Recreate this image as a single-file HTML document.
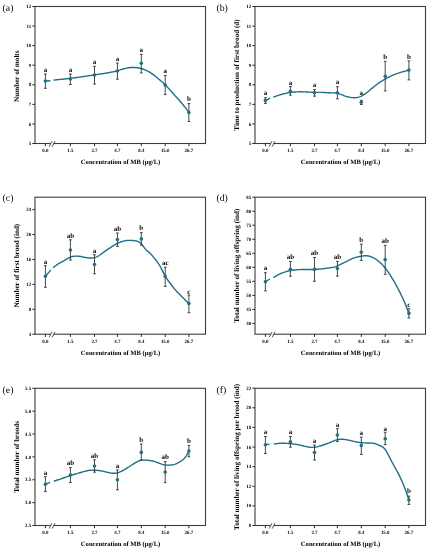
<!DOCTYPE html>
<html><head><meta charset="utf-8"><style>
html,body{margin:0;padding:0;background:#fff;}
svg{display:block;will-change:transform;text-rendering:geometricPrecision;}
</style></head><body>
<svg width="429" height="550" viewBox="0 0 429 550">
<rect width="429" height="550" fill="#fff"/>
<rect x="35.00" y="6.50" width="170.50" height="137.00" fill="none" stroke="#3c3c3c" stroke-width="1.1"/>
<rect x="50.50" y="142.00" width="3.0" height="3" fill="#fff"/>
<line x1="49.20" y1="146.60" x2="52.00" y2="141.20" stroke="#3c3c3c" stroke-width="0.90"/>
<line x1="52.20" y1="146.60" x2="55.00" y2="141.20" stroke="#3c3c3c" stroke-width="0.90"/>
<line x1="32.30" y1="143.50" x2="35.00" y2="143.50" stroke="#2a2a2a" stroke-width="1.00"/>
<text x="31.10" y="145.10" font-size="4.90" text-anchor="end" font-weight="bold" font-family="Liberation Serif">5</text>
<line x1="32.30" y1="123.93" x2="35.00" y2="123.93" stroke="#2a2a2a" stroke-width="1.00"/>
<text x="31.10" y="125.53" font-size="4.90" text-anchor="end" font-weight="bold" font-family="Liberation Serif">6</text>
<line x1="32.30" y1="104.36" x2="35.00" y2="104.36" stroke="#2a2a2a" stroke-width="1.00"/>
<text x="31.10" y="105.96" font-size="4.90" text-anchor="end" font-weight="bold" font-family="Liberation Serif">7</text>
<line x1="32.30" y1="84.79" x2="35.00" y2="84.79" stroke="#2a2a2a" stroke-width="1.00"/>
<text x="31.10" y="86.39" font-size="4.90" text-anchor="end" font-weight="bold" font-family="Liberation Serif">8</text>
<line x1="32.30" y1="65.21" x2="35.00" y2="65.21" stroke="#2a2a2a" stroke-width="1.00"/>
<text x="31.10" y="66.81" font-size="4.90" text-anchor="end" font-weight="bold" font-family="Liberation Serif">9</text>
<line x1="32.30" y1="45.64" x2="35.00" y2="45.64" stroke="#2a2a2a" stroke-width="1.00"/>
<text x="31.10" y="47.24" font-size="4.90" text-anchor="end" font-weight="bold" font-family="Liberation Serif">10</text>
<line x1="32.30" y1="26.07" x2="35.00" y2="26.07" stroke="#2a2a2a" stroke-width="1.00"/>
<text x="31.10" y="27.67" font-size="4.90" text-anchor="end" font-weight="bold" font-family="Liberation Serif">11</text>
<line x1="32.30" y1="6.50" x2="35.00" y2="6.50" stroke="#2a2a2a" stroke-width="1.00"/>
<text x="31.10" y="8.10" font-size="4.90" text-anchor="end" font-weight="bold" font-family="Liberation Serif">12</text>
<line x1="45.40" y1="143.50" x2="45.40" y2="146.20" stroke="#2a2a2a" stroke-width="1.00"/>
<text x="45.40" y="152.10" font-size="4.90" text-anchor="middle" font-weight="bold" font-family="Liberation Serif">0.0</text>
<line x1="70.40" y1="143.50" x2="70.40" y2="146.20" stroke="#2a2a2a" stroke-width="1.00"/>
<text x="70.40" y="152.10" font-size="4.90" text-anchor="middle" font-weight="bold" font-family="Liberation Serif">1.5</text>
<line x1="94.50" y1="143.50" x2="94.50" y2="146.20" stroke="#2a2a2a" stroke-width="1.00"/>
<text x="94.50" y="152.10" font-size="4.90" text-anchor="middle" font-weight="bold" font-family="Liberation Serif">2.7</text>
<line x1="117.40" y1="143.50" x2="117.40" y2="146.20" stroke="#2a2a2a" stroke-width="1.00"/>
<text x="117.40" y="152.10" font-size="4.90" text-anchor="middle" font-weight="bold" font-family="Liberation Serif">4.7</text>
<line x1="141.30" y1="143.50" x2="141.30" y2="146.20" stroke="#2a2a2a" stroke-width="1.00"/>
<text x="141.30" y="152.10" font-size="4.90" text-anchor="middle" font-weight="bold" font-family="Liberation Serif">8.4</text>
<line x1="165.20" y1="143.50" x2="165.20" y2="146.20" stroke="#2a2a2a" stroke-width="1.00"/>
<text x="165.20" y="152.10" font-size="4.90" text-anchor="middle" font-weight="bold" font-family="Liberation Serif">15.0</text>
<line x1="188.90" y1="143.50" x2="188.90" y2="146.20" stroke="#2a2a2a" stroke-width="1.00"/>
<text x="188.90" y="152.10" font-size="4.90" text-anchor="middle" font-weight="bold" font-family="Liberation Serif">26.7</text>
<text x="2.60" y="10.70" font-size="9.80" text-anchor="start" font-weight="normal" font-family="Liberation Serif">(a)</text>
<text x="18.60" y="76.20" font-size="7.15" text-anchor="middle" font-weight="bold" font-family="Liberation Serif" transform="rotate(-90 18.60 76.20)">Number of molts</text>
<text x="120.55" y="164.30" font-size="6.60" text-anchor="middle" font-weight="bold" font-family="Liberation Serif">Concentration of MB (μg/L)</text>
<path d="M45.40,81.00 L50.40,80.70" stroke="#1f7088" stroke-width="1.4" fill="none"/>
<path d="M53.50,80.10 L54.25,80.03 L55.00,79.95 L55.75,79.88 L56.50,79.80 L57.25,79.73 L58.00,79.65 L58.75,79.57 L59.50,79.50 L60.25,79.42 L61.00,79.34 L61.75,79.27 L62.50,79.19 L63.25,79.11 L64.00,79.03 L64.75,78.95 L65.50,78.86 L66.25,78.78 L67.00,78.70 L67.75,78.61 L68.50,78.52 L69.25,78.44 L70.00,78.35 L70.75,78.26 L71.50,78.17 L72.25,78.07 L73.00,77.98 L73.75,77.88 L74.50,77.79 L75.25,77.69 L76.00,77.59 L76.75,77.49 L77.50,77.39 L78.25,77.29 L79.00,77.18 L79.75,77.08 L80.50,76.97 L81.25,76.87 L82.00,76.76 L82.75,76.65 L83.50,76.54 L84.25,76.44 L85.00,76.33 L85.75,76.22 L86.50,76.11 L87.25,75.99 L88.00,75.88 L88.75,75.77 L89.50,75.66 L90.25,75.54 L91.00,75.43 L91.75,75.32 L92.50,75.20 L93.25,75.09 L94.00,74.98 L94.75,74.86 L95.50,74.75 L96.25,74.63 L97.00,74.52 L97.75,74.40 L98.50,74.29 L99.25,74.17 L100.00,74.05 L100.75,73.94 L101.50,73.82 L102.25,73.70 L103.00,73.58 L103.75,73.46 L104.50,73.34 L105.25,73.21 L106.00,73.09 L106.75,72.96 L107.50,72.84 L108.25,72.71 L109.00,72.58 L109.75,72.44 L110.50,72.31 L111.25,72.17 L112.00,72.03 L112.75,71.89 L113.50,71.74 L114.25,71.58 L115.00,71.41 L115.75,71.23 L116.50,71.04 L117.25,70.84 L118.00,70.63 L118.75,70.40 L119.50,70.17 L120.25,69.93 L121.00,69.69 L121.75,69.45 L122.50,69.21 L123.25,68.99 L124.00,68.77 L124.75,68.56 L125.50,68.38 L126.25,68.21 L127.00,68.06 L127.75,67.92 L128.50,67.81 L129.25,67.71 L130.00,67.63 L130.75,67.57 L131.50,67.52 L132.25,67.50 L133.00,67.49 L133.75,67.49 L134.50,67.52 L135.25,67.56 L136.00,67.62 L136.75,67.70 L137.50,67.80 L138.25,67.91 L139.00,68.05 L139.75,68.20 L140.50,68.37 L141.25,68.57 L142.00,68.78 L142.75,69.01 L143.50,69.27 L144.25,69.54 L145.00,69.84 L145.75,70.16 L146.50,70.50 L147.25,70.86 L148.00,71.25 L148.75,71.66 L149.50,72.10 L150.25,72.56 L151.00,73.04 L151.75,73.55 L152.50,74.07 L153.25,74.62 L154.00,75.18 L154.75,75.76 L155.50,76.35 L156.25,76.96 L157.00,77.57 L157.75,78.19 L158.50,78.82 L159.25,79.46 L160.00,80.10 L160.75,80.75 L161.50,81.42 L162.25,82.09 L163.00,82.78 L163.75,83.49 L164.50,84.21 L165.25,84.95 L166.00,85.71 L166.75,86.48 L167.50,87.27 L168.25,88.08 L169.00,88.89 L169.75,89.72 L170.50,90.55 L171.25,91.39 L172.00,92.23 L172.75,93.08 L173.50,93.92 L174.25,94.76 L175.00,95.60 L175.75,96.43 L176.50,97.26 L177.25,98.09 L178.00,98.91 L178.75,99.75 L179.50,100.59 L180.25,101.45 L181.00,102.31 L181.75,103.20 L182.50,104.11 L183.25,105.03 L184.00,105.97 L184.75,106.93 L185.50,107.90 L186.25,108.88 L187.00,109.87 L187.75,110.87 L188.50,111.87 L188.90,112.40" stroke="#1f7088" stroke-width="1.4" fill="none"/>
<line x1="45.40" y1="74.00" x2="45.40" y2="88.30" stroke="#333" stroke-width="0.90"/>
<line x1="44.00" y1="74.00" x2="46.80" y2="74.00" stroke="#333" stroke-width="0.90"/>
<line x1="44.00" y1="88.30" x2="46.80" y2="88.30" stroke="#333" stroke-width="0.90"/>
<circle cx="45.40" cy="81.00" r="1.8" fill="#1f7088"/>
<text x="45.40" y="71.80" font-size="7.00" text-anchor="middle" font-weight="bold" font-family="Liberation Serif">a</text>
<line x1="70.40" y1="74.00" x2="70.40" y2="84.50" stroke="#333" stroke-width="0.90"/>
<line x1="69.00" y1="74.00" x2="71.80" y2="74.00" stroke="#333" stroke-width="0.90"/>
<line x1="69.00" y1="84.50" x2="71.80" y2="84.50" stroke="#333" stroke-width="0.90"/>
<circle cx="70.40" cy="78.90" r="1.8" fill="#1f7088"/>
<text x="70.40" y="72.00" font-size="7.00" text-anchor="middle" font-weight="bold" font-family="Liberation Serif">a</text>
<line x1="94.50" y1="66.30" x2="94.50" y2="84.00" stroke="#333" stroke-width="0.90"/>
<line x1="93.10" y1="66.30" x2="95.90" y2="66.30" stroke="#333" stroke-width="0.90"/>
<line x1="93.10" y1="84.00" x2="95.90" y2="84.00" stroke="#333" stroke-width="0.90"/>
<circle cx="94.50" cy="75.00" r="1.8" fill="#1f7088"/>
<text x="94.50" y="64.00" font-size="7.00" text-anchor="middle" font-weight="bold" font-family="Liberation Serif">a</text>
<line x1="117.40" y1="63.10" x2="117.40" y2="79.20" stroke="#333" stroke-width="0.90"/>
<line x1="116.00" y1="63.10" x2="118.80" y2="63.10" stroke="#333" stroke-width="0.90"/>
<line x1="116.00" y1="79.20" x2="118.80" y2="79.20" stroke="#333" stroke-width="0.90"/>
<circle cx="117.40" cy="71.00" r="1.8" fill="#1f7088"/>
<text x="117.40" y="60.90" font-size="7.00" text-anchor="middle" font-weight="bold" font-family="Liberation Serif">a</text>
<line x1="141.30" y1="54.30" x2="141.30" y2="72.90" stroke="#333" stroke-width="0.90"/>
<line x1="139.90" y1="54.30" x2="142.70" y2="54.30" stroke="#333" stroke-width="0.90"/>
<line x1="139.90" y1="72.90" x2="142.70" y2="72.90" stroke="#333" stroke-width="0.90"/>
<circle cx="141.30" cy="63.30" r="1.8" fill="#1f7088"/>
<text x="141.30" y="52.20" font-size="7.00" text-anchor="middle" font-weight="bold" font-family="Liberation Serif">a</text>
<line x1="165.20" y1="75.40" x2="165.20" y2="94.60" stroke="#333" stroke-width="0.90"/>
<line x1="163.80" y1="75.40" x2="166.60" y2="75.40" stroke="#333" stroke-width="0.90"/>
<line x1="163.80" y1="94.60" x2="166.60" y2="94.60" stroke="#333" stroke-width="0.90"/>
<circle cx="165.20" cy="85.10" r="1.8" fill="#1f7088"/>
<text x="165.20" y="73.00" font-size="7.00" text-anchor="middle" font-weight="bold" font-family="Liberation Serif">a</text>
<line x1="188.90" y1="103.50" x2="188.90" y2="121.50" stroke="#333" stroke-width="0.90"/>
<line x1="187.50" y1="103.50" x2="190.30" y2="103.50" stroke="#333" stroke-width="0.90"/>
<line x1="187.50" y1="121.50" x2="190.30" y2="121.50" stroke="#333" stroke-width="0.90"/>
<circle cx="188.90" cy="112.50" r="1.8" fill="#1f7088"/>
<text x="188.90" y="100.70" font-size="7.00" text-anchor="middle" font-weight="bold" font-family="Liberation Serif">b</text>
<rect x="255.00" y="6.50" width="170.50" height="137.00" fill="none" stroke="#3c3c3c" stroke-width="1.1"/>
<rect x="270.50" y="142.00" width="3.0" height="3" fill="#fff"/>
<line x1="269.20" y1="146.60" x2="272.00" y2="141.20" stroke="#3c3c3c" stroke-width="0.90"/>
<line x1="272.20" y1="146.60" x2="275.00" y2="141.20" stroke="#3c3c3c" stroke-width="0.90"/>
<line x1="252.30" y1="143.50" x2="255.00" y2="143.50" stroke="#2a2a2a" stroke-width="1.00"/>
<text x="251.10" y="145.10" font-size="4.90" text-anchor="end" font-weight="bold" font-family="Liberation Serif">5</text>
<line x1="252.30" y1="123.93" x2="255.00" y2="123.93" stroke="#2a2a2a" stroke-width="1.00"/>
<text x="251.10" y="125.53" font-size="4.90" text-anchor="end" font-weight="bold" font-family="Liberation Serif">6</text>
<line x1="252.30" y1="104.36" x2="255.00" y2="104.36" stroke="#2a2a2a" stroke-width="1.00"/>
<text x="251.10" y="105.96" font-size="4.90" text-anchor="end" font-weight="bold" font-family="Liberation Serif">7</text>
<line x1="252.30" y1="84.79" x2="255.00" y2="84.79" stroke="#2a2a2a" stroke-width="1.00"/>
<text x="251.10" y="86.39" font-size="4.90" text-anchor="end" font-weight="bold" font-family="Liberation Serif">8</text>
<line x1="252.30" y1="65.21" x2="255.00" y2="65.21" stroke="#2a2a2a" stroke-width="1.00"/>
<text x="251.10" y="66.81" font-size="4.90" text-anchor="end" font-weight="bold" font-family="Liberation Serif">9</text>
<line x1="252.30" y1="45.64" x2="255.00" y2="45.64" stroke="#2a2a2a" stroke-width="1.00"/>
<text x="251.10" y="47.24" font-size="4.90" text-anchor="end" font-weight="bold" font-family="Liberation Serif">10</text>
<line x1="252.30" y1="26.07" x2="255.00" y2="26.07" stroke="#2a2a2a" stroke-width="1.00"/>
<text x="251.10" y="27.67" font-size="4.90" text-anchor="end" font-weight="bold" font-family="Liberation Serif">11</text>
<line x1="252.30" y1="6.50" x2="255.00" y2="6.50" stroke="#2a2a2a" stroke-width="1.00"/>
<text x="251.10" y="8.10" font-size="4.90" text-anchor="end" font-weight="bold" font-family="Liberation Serif">12</text>
<line x1="265.40" y1="143.50" x2="265.40" y2="146.20" stroke="#2a2a2a" stroke-width="1.00"/>
<text x="265.40" y="152.10" font-size="4.90" text-anchor="middle" font-weight="bold" font-family="Liberation Serif">0.0</text>
<line x1="290.40" y1="143.50" x2="290.40" y2="146.20" stroke="#2a2a2a" stroke-width="1.00"/>
<text x="290.40" y="152.10" font-size="4.90" text-anchor="middle" font-weight="bold" font-family="Liberation Serif">1.5</text>
<line x1="314.50" y1="143.50" x2="314.50" y2="146.20" stroke="#2a2a2a" stroke-width="1.00"/>
<text x="314.50" y="152.10" font-size="4.90" text-anchor="middle" font-weight="bold" font-family="Liberation Serif">2.7</text>
<line x1="337.40" y1="143.50" x2="337.40" y2="146.20" stroke="#2a2a2a" stroke-width="1.00"/>
<text x="337.40" y="152.10" font-size="4.90" text-anchor="middle" font-weight="bold" font-family="Liberation Serif">4.7</text>
<line x1="361.30" y1="143.50" x2="361.30" y2="146.20" stroke="#2a2a2a" stroke-width="1.00"/>
<text x="361.30" y="152.10" font-size="4.90" text-anchor="middle" font-weight="bold" font-family="Liberation Serif">8.4</text>
<line x1="385.20" y1="143.50" x2="385.20" y2="146.20" stroke="#2a2a2a" stroke-width="1.00"/>
<text x="385.20" y="152.10" font-size="4.90" text-anchor="middle" font-weight="bold" font-family="Liberation Serif">15.0</text>
<line x1="408.90" y1="143.50" x2="408.90" y2="146.20" stroke="#2a2a2a" stroke-width="1.00"/>
<text x="408.90" y="152.10" font-size="4.90" text-anchor="middle" font-weight="bold" font-family="Liberation Serif">26.7</text>
<text x="216.40" y="10.70" font-size="9.80" text-anchor="start" font-weight="normal" font-family="Liberation Serif">(b)</text>
<text x="238.60" y="75.00" font-size="7.15" text-anchor="middle" font-weight="bold" font-family="Liberation Serif" transform="rotate(-90 238.60 75.00)">Time to production of first brood (d)</text>
<text x="340.55" y="164.30" font-size="6.60" text-anchor="middle" font-weight="bold" font-family="Liberation Serif">Concentration of MB (μg/L)</text>
<path d="M265.40,100.60 L270.20,98.20" stroke="#1f7088" stroke-width="1.4" fill="none"/>
<path d="M273.20,97.20 L273.95,96.94 L274.70,96.67 L275.45,96.41 L276.20,96.15 L276.95,95.89 L277.70,95.64 L278.45,95.39 L279.20,95.15 L279.95,94.92 L280.70,94.69 L281.45,94.47 L282.20,94.26 L282.95,94.05 L283.70,93.86 L284.45,93.67 L285.20,93.49 L285.95,93.32 L286.70,93.16 L287.45,93.01 L288.20,92.86 L288.95,92.73 L289.70,92.61 L290.45,92.49 L291.20,92.39 L291.95,92.29 L292.70,92.21 L293.45,92.13 L294.20,92.06 L294.95,92.00 L295.70,91.95 L296.45,91.91 L297.20,91.87 L297.95,91.84 L298.70,91.82 L299.45,91.81 L300.20,91.80 L300.95,91.80 L301.70,91.81 L302.45,91.82 L303.20,91.84 L303.95,91.86 L304.70,91.88 L305.45,91.91 L306.20,91.95 L306.95,91.98 L307.70,92.02 L308.45,92.05 L309.20,92.09 L309.95,92.13 L310.70,92.16 L311.45,92.19 L312.20,92.23 L312.95,92.25 L313.70,92.28 L314.45,92.30 L315.20,92.31 L315.95,92.33 L316.70,92.34 L317.45,92.34 L318.20,92.35 L318.95,92.35 L319.70,92.36 L320.45,92.37 L321.20,92.38 L321.95,92.39 L322.70,92.41 L323.45,92.43 L324.20,92.46 L324.95,92.50 L325.70,92.54 L326.45,92.59 L327.20,92.64 L327.95,92.69 L328.70,92.74 L329.45,92.78 L330.20,92.81 L330.95,92.82 L331.70,92.84 L332.45,92.85 L333.20,92.86 L333.95,92.89 L334.70,92.93 L335.45,92.99 L336.20,93.09 L336.95,93.21 L337.70,93.37 L338.45,93.57 L339.20,93.80 L339.95,94.06 L340.70,94.33 L341.45,94.62 L342.20,94.92 L342.95,95.22 L343.70,95.52 L344.45,95.80 L345.20,96.07 L345.95,96.31 L346.70,96.54 L347.45,96.74 L348.20,96.93 L348.95,97.10 L349.70,97.25 L350.45,97.38 L351.20,97.49 L351.95,97.58 L352.70,97.65 L353.45,97.70 L354.20,97.72 L354.95,97.70 L355.70,97.66 L356.45,97.58 L357.20,97.46 L357.95,97.31 L358.70,97.12 L359.45,96.89 L360.20,96.63 L360.95,96.32 L361.70,95.98 L362.45,95.59 L363.20,95.17 L363.95,94.70 L364.70,94.21 L365.45,93.68 L366.20,93.12 L366.95,92.53 L367.70,91.93 L368.45,91.31 L369.20,90.68 L369.95,90.04 L370.70,89.41 L371.45,88.78 L372.20,88.15 L372.95,87.53 L373.70,86.91 L374.45,86.31 L375.20,85.71 L375.95,85.12 L376.70,84.55 L377.45,84.00 L378.20,83.46 L378.95,82.94 L379.70,82.43 L380.45,81.94 L381.20,81.46 L381.95,80.99 L382.70,80.54 L383.45,80.09 L384.20,79.66 L384.95,79.23 L385.70,78.81 L386.45,78.39 L387.20,77.98 L387.95,77.58 L388.70,77.19 L389.45,76.81 L390.20,76.43 L390.95,76.07 L391.70,75.72 L392.45,75.38 L393.20,75.04 L393.95,74.73 L394.70,74.42 L395.45,74.13 L396.20,73.84 L396.95,73.58 L397.70,73.32 L398.45,73.07 L399.20,72.83 L399.95,72.60 L400.70,72.37 L401.45,72.16 L402.20,71.94 L402.95,71.73 L403.70,71.53 L404.45,71.33 L405.20,71.13 L405.95,70.93 L406.70,70.74 L407.45,70.55 L408.20,70.35 L408.80,70.20" stroke="#1f7088" stroke-width="1.4" fill="none"/>
<line x1="265.40" y1="97.80" x2="265.40" y2="103.40" stroke="#333" stroke-width="0.90"/>
<line x1="264.00" y1="97.80" x2="266.80" y2="97.80" stroke="#333" stroke-width="0.90"/>
<line x1="264.00" y1="103.40" x2="266.80" y2="103.40" stroke="#333" stroke-width="0.90"/>
<circle cx="265.40" cy="100.60" r="1.8" fill="#1f7088"/>
<text x="265.40" y="95.00" font-size="7.00" text-anchor="middle" font-weight="bold" font-family="Liberation Serif">a</text>
<line x1="290.40" y1="86.60" x2="290.40" y2="95.20" stroke="#333" stroke-width="0.90"/>
<line x1="289.00" y1="86.60" x2="291.80" y2="86.60" stroke="#333" stroke-width="0.90"/>
<line x1="289.00" y1="95.20" x2="291.80" y2="95.20" stroke="#333" stroke-width="0.90"/>
<circle cx="290.40" cy="91.20" r="1.8" fill="#1f7088"/>
<text x="290.40" y="85.10" font-size="7.00" text-anchor="middle" font-weight="bold" font-family="Liberation Serif">a</text>
<line x1="314.50" y1="89.50" x2="314.50" y2="96.20" stroke="#333" stroke-width="0.90"/>
<line x1="313.10" y1="89.50" x2="315.90" y2="89.50" stroke="#333" stroke-width="0.90"/>
<line x1="313.10" y1="96.20" x2="315.90" y2="96.20" stroke="#333" stroke-width="0.90"/>
<circle cx="314.50" cy="92.70" r="1.8" fill="#1f7088"/>
<text x="314.50" y="87.00" font-size="7.00" text-anchor="middle" font-weight="bold" font-family="Liberation Serif">a</text>
<line x1="337.40" y1="86.70" x2="337.40" y2="98.80" stroke="#333" stroke-width="0.90"/>
<line x1="336.00" y1="86.70" x2="338.80" y2="86.70" stroke="#333" stroke-width="0.90"/>
<line x1="336.00" y1="98.80" x2="338.80" y2="98.80" stroke="#333" stroke-width="0.90"/>
<circle cx="337.40" cy="92.70" r="1.8" fill="#1f7088"/>
<text x="337.40" y="83.90" font-size="7.00" text-anchor="middle" font-weight="bold" font-family="Liberation Serif">a</text>
<line x1="361.30" y1="100.30" x2="361.30" y2="104.50" stroke="#333" stroke-width="0.90"/>
<line x1="359.90" y1="100.30" x2="362.70" y2="100.30" stroke="#333" stroke-width="0.90"/>
<line x1="359.90" y1="104.50" x2="362.70" y2="104.50" stroke="#333" stroke-width="0.90"/>
<circle cx="361.30" cy="102.20" r="1.8" fill="#1f7088"/>
<text x="361.30" y="94.90" font-size="7.00" text-anchor="middle" font-weight="bold" font-family="Liberation Serif">a</text>
<line x1="385.20" y1="61.40" x2="385.20" y2="90.90" stroke="#333" stroke-width="0.90"/>
<line x1="383.80" y1="61.40" x2="386.60" y2="61.40" stroke="#333" stroke-width="0.90"/>
<line x1="383.80" y1="90.90" x2="386.60" y2="90.90" stroke="#333" stroke-width="0.90"/>
<circle cx="385.20" cy="76.20" r="1.8" fill="#1f7088"/>
<text x="385.20" y="59.30" font-size="7.00" text-anchor="middle" font-weight="bold" font-family="Liberation Serif">b</text>
<line x1="408.90" y1="60.90" x2="408.90" y2="79.90" stroke="#333" stroke-width="0.90"/>
<line x1="407.50" y1="60.90" x2="410.30" y2="60.90" stroke="#333" stroke-width="0.90"/>
<line x1="407.50" y1="79.90" x2="410.30" y2="79.90" stroke="#333" stroke-width="0.90"/>
<circle cx="408.90" cy="70.10" r="1.8" fill="#1f7088"/>
<text x="408.90" y="59.00" font-size="7.00" text-anchor="middle" font-weight="bold" font-family="Liberation Serif">b</text>
<rect x="35.00" y="197.20" width="170.50" height="137.00" fill="none" stroke="#3c3c3c" stroke-width="1.1"/>
<rect x="50.50" y="332.70" width="3.0" height="3" fill="#fff"/>
<line x1="49.20" y1="337.30" x2="52.00" y2="331.90" stroke="#3c3c3c" stroke-width="0.90"/>
<line x1="52.20" y1="337.30" x2="55.00" y2="331.90" stroke="#3c3c3c" stroke-width="0.90"/>
<line x1="32.30" y1="334.20" x2="35.00" y2="334.20" stroke="#2a2a2a" stroke-width="1.00"/>
<text x="31.10" y="335.80" font-size="4.90" text-anchor="end" font-weight="bold" font-family="Liberation Serif">4</text>
<line x1="32.30" y1="309.28" x2="35.00" y2="309.28" stroke="#2a2a2a" stroke-width="1.00"/>
<text x="31.10" y="310.88" font-size="4.90" text-anchor="end" font-weight="bold" font-family="Liberation Serif">8</text>
<line x1="32.30" y1="284.36" x2="35.00" y2="284.36" stroke="#2a2a2a" stroke-width="1.00"/>
<text x="31.10" y="285.96" font-size="4.90" text-anchor="end" font-weight="bold" font-family="Liberation Serif">12</text>
<line x1="32.30" y1="259.44" x2="35.00" y2="259.44" stroke="#2a2a2a" stroke-width="1.00"/>
<text x="31.10" y="261.04" font-size="4.90" text-anchor="end" font-weight="bold" font-family="Liberation Serif">16</text>
<line x1="32.30" y1="234.52" x2="35.00" y2="234.52" stroke="#2a2a2a" stroke-width="1.00"/>
<text x="31.10" y="236.12" font-size="4.90" text-anchor="end" font-weight="bold" font-family="Liberation Serif">20</text>
<line x1="32.30" y1="209.60" x2="35.00" y2="209.60" stroke="#2a2a2a" stroke-width="1.00"/>
<text x="31.10" y="211.20" font-size="4.90" text-anchor="end" font-weight="bold" font-family="Liberation Serif">24</text>
<line x1="45.40" y1="334.20" x2="45.40" y2="336.90" stroke="#2a2a2a" stroke-width="1.00"/>
<text x="45.40" y="342.80" font-size="4.90" text-anchor="middle" font-weight="bold" font-family="Liberation Serif">0.0</text>
<line x1="70.40" y1="334.20" x2="70.40" y2="336.90" stroke="#2a2a2a" stroke-width="1.00"/>
<text x="70.40" y="342.80" font-size="4.90" text-anchor="middle" font-weight="bold" font-family="Liberation Serif">1.5</text>
<line x1="94.50" y1="334.20" x2="94.50" y2="336.90" stroke="#2a2a2a" stroke-width="1.00"/>
<text x="94.50" y="342.80" font-size="4.90" text-anchor="middle" font-weight="bold" font-family="Liberation Serif">2.7</text>
<line x1="117.40" y1="334.20" x2="117.40" y2="336.90" stroke="#2a2a2a" stroke-width="1.00"/>
<text x="117.40" y="342.80" font-size="4.90" text-anchor="middle" font-weight="bold" font-family="Liberation Serif">4.7</text>
<line x1="141.30" y1="334.20" x2="141.30" y2="336.90" stroke="#2a2a2a" stroke-width="1.00"/>
<text x="141.30" y="342.80" font-size="4.90" text-anchor="middle" font-weight="bold" font-family="Liberation Serif">8.4</text>
<line x1="165.20" y1="334.20" x2="165.20" y2="336.90" stroke="#2a2a2a" stroke-width="1.00"/>
<text x="165.20" y="342.80" font-size="4.90" text-anchor="middle" font-weight="bold" font-family="Liberation Serif">15.0</text>
<line x1="188.90" y1="334.20" x2="188.90" y2="336.90" stroke="#2a2a2a" stroke-width="1.00"/>
<text x="188.90" y="342.80" font-size="4.90" text-anchor="middle" font-weight="bold" font-family="Liberation Serif">26.7</text>
<text x="2.60" y="201.40" font-size="9.80" text-anchor="start" font-weight="normal" font-family="Liberation Serif">(c)</text>
<text x="18.60" y="265.70" font-size="7.15" text-anchor="middle" font-weight="bold" font-family="Liberation Serif" transform="rotate(-90 18.60 265.70)">Number of first brood (ind)</text>
<text x="120.55" y="355.00" font-size="6.60" text-anchor="middle" font-weight="bold" font-family="Liberation Serif">Concentration of MB (μg/L)</text>
<path d="M45.40,276.20 L51.00,269.90" stroke="#1f7088" stroke-width="1.4" fill="none"/>
<path d="M53.00,267.80 L53.75,267.19 L54.50,266.59 L55.25,266.01 L56.00,265.46 L56.75,264.93 L57.50,264.43 L58.25,263.95 L59.00,263.49 L59.75,263.04 L60.50,262.62 L61.25,262.20 L62.00,261.78 L62.75,261.37 L63.50,260.96 L64.25,260.54 L65.00,260.10 L65.75,259.65 L66.50,259.19 L67.25,258.74 L68.00,258.30 L68.75,257.89 L69.50,257.52 L70.25,257.20 L71.00,256.93 L71.75,256.71 L72.50,256.53 L73.25,256.39 L74.00,256.29 L74.75,256.22 L75.50,256.17 L76.25,256.15 L77.00,256.15 L77.75,256.18 L78.50,256.23 L79.25,256.30 L80.00,256.40 L80.75,256.52 L81.50,256.67 L82.25,256.82 L83.00,256.98 L83.75,257.15 L84.50,257.30 L85.25,257.45 L86.00,257.57 L86.75,257.69 L87.50,257.78 L88.25,257.86 L89.00,257.93 L89.75,257.99 L90.50,258.02 L91.25,258.04 L92.00,258.04 L92.75,257.99 L93.50,257.90 L94.25,257.76 L95.00,257.56 L95.75,257.29 L96.50,256.97 L97.25,256.60 L98.00,256.19 L98.75,255.73 L99.50,255.24 L100.25,254.72 L101.00,254.18 L101.75,253.63 L102.50,253.06 L103.25,252.49 L104.00,251.93 L104.75,251.38 L105.50,250.85 L106.25,250.34 L107.00,249.84 L107.75,249.35 L108.50,248.87 L109.25,248.38 L110.00,247.90 L110.75,247.41 L111.50,246.92 L112.25,246.42 L113.00,245.94 L113.75,245.46 L114.50,245.00 L115.25,244.55 L116.00,244.13 L116.75,243.73 L117.50,243.35 L118.25,242.99 L119.00,242.66 L119.75,242.34 L120.50,242.05 L121.25,241.78 L122.00,241.53 L122.75,241.31 L123.50,241.11 L124.25,240.93 L125.00,240.78 L125.75,240.65 L126.50,240.54 L127.25,240.46 L128.00,240.40 L128.75,240.36 L129.50,240.35 L130.25,240.36 L131.00,240.39 L131.75,240.43 L132.50,240.50 L133.25,240.57 L134.00,240.66 L134.75,240.76 L135.50,240.88 L136.25,241.01 L137.00,241.18 L137.75,241.41 L138.50,241.71 L139.25,242.11 L140.00,242.61 L140.75,243.25 L141.50,244.02 L142.25,244.94 L143.00,245.94 L143.75,246.97 L144.50,247.97 L145.25,248.89 L146.00,249.71 L146.75,250.44 L147.50,251.11 L148.25,251.76 L149.00,252.40 L149.75,253.07 L150.50,253.79 L151.25,254.56 L152.00,255.39 L152.75,256.25 L153.50,257.15 L154.25,258.07 L155.00,259.00 L155.75,259.94 L156.50,260.90 L157.25,261.90 L158.00,262.95 L158.75,264.06 L159.50,265.25 L160.25,266.54 L161.00,267.92 L161.75,269.37 L162.50,270.86 L163.25,272.35 L164.00,273.81 L164.75,275.22 L165.50,276.54 L166.25,277.76 L167.00,278.90 L167.75,279.98 L168.50,281.00 L169.25,282.01 L170.00,283.00 L170.75,284.00 L171.50,285.01 L172.25,286.01 L173.00,286.99 L173.75,287.96 L174.50,288.90 L175.25,289.79 L176.00,290.65 L176.75,291.48 L177.50,292.27 L178.25,293.04 L179.00,293.80 L179.75,294.55 L180.50,295.30 L181.25,296.05 L182.00,296.80 L182.75,297.55 L183.50,298.29 L184.25,299.04 L185.00,299.80 L185.75,300.55 L186.50,301.30 L187.25,302.05 L188.00,302.80 L188.75,303.55 L188.90,303.70" stroke="#1f7088" stroke-width="1.4" fill="none"/>
<line x1="45.40" y1="265.70" x2="45.40" y2="287.30" stroke="#333" stroke-width="0.90"/>
<line x1="44.00" y1="265.70" x2="46.80" y2="265.70" stroke="#333" stroke-width="0.90"/>
<line x1="44.00" y1="287.30" x2="46.80" y2="287.30" stroke="#333" stroke-width="0.90"/>
<circle cx="45.40" cy="276.20" r="1.8" fill="#1f7088"/>
<text x="45.40" y="263.50" font-size="7.00" text-anchor="middle" font-weight="bold" font-family="Liberation Serif">a</text>
<line x1="70.40" y1="239.80" x2="70.40" y2="260.10" stroke="#333" stroke-width="0.90"/>
<line x1="69.00" y1="239.80" x2="71.80" y2="239.80" stroke="#333" stroke-width="0.90"/>
<line x1="69.00" y1="260.10" x2="71.80" y2="260.10" stroke="#333" stroke-width="0.90"/>
<circle cx="70.40" cy="250.00" r="1.8" fill="#1f7088"/>
<text x="70.40" y="237.60" font-size="7.00" text-anchor="middle" font-weight="bold" font-family="Liberation Serif">ab</text>
<line x1="94.50" y1="254.70" x2="94.50" y2="273.80" stroke="#333" stroke-width="0.90"/>
<line x1="93.10" y1="254.70" x2="95.90" y2="254.70" stroke="#333" stroke-width="0.90"/>
<line x1="93.10" y1="273.80" x2="95.90" y2="273.80" stroke="#333" stroke-width="0.90"/>
<circle cx="94.50" cy="264.50" r="1.8" fill="#1f7088"/>
<text x="94.50" y="252.50" font-size="7.00" text-anchor="middle" font-weight="bold" font-family="Liberation Serif">a</text>
<line x1="117.40" y1="233.00" x2="117.40" y2="246.30" stroke="#333" stroke-width="0.90"/>
<line x1="116.00" y1="233.00" x2="118.80" y2="233.00" stroke="#333" stroke-width="0.90"/>
<line x1="116.00" y1="246.30" x2="118.80" y2="246.30" stroke="#333" stroke-width="0.90"/>
<circle cx="117.40" cy="239.60" r="1.8" fill="#1f7088"/>
<text x="117.40" y="231.10" font-size="7.00" text-anchor="middle" font-weight="bold" font-family="Liberation Serif">ab</text>
<line x1="141.30" y1="232.60" x2="141.30" y2="245.20" stroke="#333" stroke-width="0.90"/>
<line x1="139.90" y1="232.60" x2="142.70" y2="232.60" stroke="#333" stroke-width="0.90"/>
<line x1="139.90" y1="245.20" x2="142.70" y2="245.20" stroke="#333" stroke-width="0.90"/>
<circle cx="141.30" cy="238.90" r="1.8" fill="#1f7088"/>
<text x="141.30" y="230.40" font-size="7.00" text-anchor="middle" font-weight="bold" font-family="Liberation Serif">b</text>
<line x1="165.20" y1="267.20" x2="165.20" y2="286.40" stroke="#333" stroke-width="0.90"/>
<line x1="163.80" y1="267.20" x2="166.60" y2="267.20" stroke="#333" stroke-width="0.90"/>
<line x1="163.80" y1="286.40" x2="166.60" y2="286.40" stroke="#333" stroke-width="0.90"/>
<circle cx="165.20" cy="276.40" r="1.8" fill="#1f7088"/>
<text x="165.20" y="265.20" font-size="7.00" text-anchor="middle" font-weight="bold" font-family="Liberation Serif">ac</text>
<line x1="188.90" y1="295.10" x2="188.90" y2="312.70" stroke="#333" stroke-width="0.90"/>
<line x1="187.50" y1="295.10" x2="190.30" y2="295.10" stroke="#333" stroke-width="0.90"/>
<line x1="187.50" y1="312.70" x2="190.30" y2="312.70" stroke="#333" stroke-width="0.90"/>
<circle cx="188.90" cy="303.60" r="1.8" fill="#1f7088"/>
<text x="188.90" y="293.70" font-size="7.00" text-anchor="middle" font-weight="bold" font-family="Liberation Serif">c</text>
<rect x="255.00" y="197.20" width="170.50" height="137.00" fill="none" stroke="#3c3c3c" stroke-width="1.1"/>
<rect x="270.50" y="332.70" width="3.0" height="3" fill="#fff"/>
<line x1="269.20" y1="337.30" x2="272.00" y2="331.90" stroke="#3c3c3c" stroke-width="0.90"/>
<line x1="272.20" y1="337.30" x2="275.00" y2="331.90" stroke="#3c3c3c" stroke-width="0.90"/>
<line x1="252.30" y1="323.40" x2="255.00" y2="323.40" stroke="#2a2a2a" stroke-width="1.00"/>
<text x="251.10" y="325.00" font-size="4.90" text-anchor="end" font-weight="bold" font-family="Liberation Serif">40</text>
<line x1="252.30" y1="309.38" x2="255.00" y2="309.38" stroke="#2a2a2a" stroke-width="1.00"/>
<text x="251.10" y="310.98" font-size="4.90" text-anchor="end" font-weight="bold" font-family="Liberation Serif">45</text>
<line x1="252.30" y1="295.36" x2="255.00" y2="295.36" stroke="#2a2a2a" stroke-width="1.00"/>
<text x="251.10" y="296.96" font-size="4.90" text-anchor="end" font-weight="bold" font-family="Liberation Serif">50</text>
<line x1="252.30" y1="281.33" x2="255.00" y2="281.33" stroke="#2a2a2a" stroke-width="1.00"/>
<text x="251.10" y="282.93" font-size="4.90" text-anchor="end" font-weight="bold" font-family="Liberation Serif">55</text>
<line x1="252.30" y1="267.31" x2="255.00" y2="267.31" stroke="#2a2a2a" stroke-width="1.00"/>
<text x="251.10" y="268.91" font-size="4.90" text-anchor="end" font-weight="bold" font-family="Liberation Serif">60</text>
<line x1="252.30" y1="253.29" x2="255.00" y2="253.29" stroke="#2a2a2a" stroke-width="1.00"/>
<text x="251.10" y="254.89" font-size="4.90" text-anchor="end" font-weight="bold" font-family="Liberation Serif">65</text>
<line x1="252.30" y1="239.27" x2="255.00" y2="239.27" stroke="#2a2a2a" stroke-width="1.00"/>
<text x="251.10" y="240.87" font-size="4.90" text-anchor="end" font-weight="bold" font-family="Liberation Serif">70</text>
<line x1="252.30" y1="225.24" x2="255.00" y2="225.24" stroke="#2a2a2a" stroke-width="1.00"/>
<text x="251.10" y="226.84" font-size="4.90" text-anchor="end" font-weight="bold" font-family="Liberation Serif">75</text>
<line x1="252.30" y1="211.22" x2="255.00" y2="211.22" stroke="#2a2a2a" stroke-width="1.00"/>
<text x="251.10" y="212.82" font-size="4.90" text-anchor="end" font-weight="bold" font-family="Liberation Serif">80</text>
<line x1="252.30" y1="197.20" x2="255.00" y2="197.20" stroke="#2a2a2a" stroke-width="1.00"/>
<text x="251.10" y="198.80" font-size="4.90" text-anchor="end" font-weight="bold" font-family="Liberation Serif">85</text>
<line x1="265.40" y1="334.20" x2="265.40" y2="336.90" stroke="#2a2a2a" stroke-width="1.00"/>
<text x="265.40" y="342.80" font-size="4.90" text-anchor="middle" font-weight="bold" font-family="Liberation Serif">0.0</text>
<line x1="290.40" y1="334.20" x2="290.40" y2="336.90" stroke="#2a2a2a" stroke-width="1.00"/>
<text x="290.40" y="342.80" font-size="4.90" text-anchor="middle" font-weight="bold" font-family="Liberation Serif">1.5</text>
<line x1="314.50" y1="334.20" x2="314.50" y2="336.90" stroke="#2a2a2a" stroke-width="1.00"/>
<text x="314.50" y="342.80" font-size="4.90" text-anchor="middle" font-weight="bold" font-family="Liberation Serif">2.7</text>
<line x1="337.40" y1="334.20" x2="337.40" y2="336.90" stroke="#2a2a2a" stroke-width="1.00"/>
<text x="337.40" y="342.80" font-size="4.90" text-anchor="middle" font-weight="bold" font-family="Liberation Serif">4.7</text>
<line x1="361.30" y1="334.20" x2="361.30" y2="336.90" stroke="#2a2a2a" stroke-width="1.00"/>
<text x="361.30" y="342.80" font-size="4.90" text-anchor="middle" font-weight="bold" font-family="Liberation Serif">8.4</text>
<line x1="385.20" y1="334.20" x2="385.20" y2="336.90" stroke="#2a2a2a" stroke-width="1.00"/>
<text x="385.20" y="342.80" font-size="4.90" text-anchor="middle" font-weight="bold" font-family="Liberation Serif">15.0</text>
<line x1="408.90" y1="334.20" x2="408.90" y2="336.90" stroke="#2a2a2a" stroke-width="1.00"/>
<text x="408.90" y="342.80" font-size="4.90" text-anchor="middle" font-weight="bold" font-family="Liberation Serif">26.7</text>
<text x="216.40" y="201.40" font-size="9.80" text-anchor="start" font-weight="normal" font-family="Liberation Serif">(d)</text>
<text x="238.60" y="265.70" font-size="7.15" text-anchor="middle" font-weight="bold" font-family="Liberation Serif" transform="rotate(-90 238.60 265.70)">Total number of living offspring (ind)</text>
<text x="340.55" y="355.00" font-size="6.60" text-anchor="middle" font-weight="bold" font-family="Liberation Serif">Concentration of MB (μg/L)</text>
<path d="M265.40,281.70 L270.00,279.00" stroke="#1f7088" stroke-width="1.4" fill="none"/>
<path d="M273.40,277.60 L274.15,277.14 L274.90,276.69 L275.65,276.25 L276.40,275.81 L277.15,275.38 L277.90,274.96 L278.65,274.57 L279.40,274.19 L280.15,273.83 L280.90,273.50 L281.65,273.18 L282.40,272.89 L283.15,272.62 L283.90,272.36 L284.65,272.11 L285.40,271.88 L286.15,271.65 L286.90,271.44 L287.65,271.24 L288.40,271.05 L289.15,270.87 L289.90,270.70 L290.65,270.55 L291.40,270.41 L292.15,270.28 L292.90,270.16 L293.65,270.06 L294.40,269.97 L295.15,269.88 L295.90,269.82 L296.65,269.76 L297.40,269.71 L298.15,269.67 L298.90,269.64 L299.65,269.61 L300.40,269.59 L301.15,269.57 L301.90,269.56 L302.65,269.55 L303.40,269.54 L304.15,269.53 L304.90,269.53 L305.65,269.52 L306.40,269.52 L307.15,269.52 L307.90,269.52 L308.65,269.51 L309.40,269.51 L310.15,269.50 L310.90,269.49 L311.65,269.48 L312.40,269.46 L313.15,269.45 L313.90,269.42 L314.65,269.39 L315.40,269.36 L316.15,269.32 L316.90,269.28 L317.65,269.23 L318.40,269.18 L319.15,269.12 L319.90,269.06 L320.65,268.99 L321.40,268.92 L322.15,268.84 L322.90,268.76 L323.65,268.67 L324.40,268.58 L325.15,268.48 L325.90,268.38 L326.65,268.27 L327.40,268.17 L328.15,268.06 L328.90,267.95 L329.65,267.85 L330.40,267.75 L331.15,267.64 L331.90,267.53 L332.65,267.41 L333.40,267.27 L334.15,267.11 L334.90,266.92 L335.65,266.70 L336.40,266.43 L337.15,266.12 L337.90,265.75 L338.65,265.35 L339.40,264.93 L340.15,264.52 L340.90,264.13 L341.65,263.76 L342.40,263.41 L343.15,263.06 L343.90,262.72 L344.65,262.37 L345.40,262.01 L346.15,261.64 L346.90,261.26 L347.65,260.88 L348.40,260.50 L349.15,260.12 L349.90,259.75 L350.65,259.39 L351.40,259.03 L352.15,258.70 L352.90,258.38 L353.65,258.08 L354.40,257.80 L355.15,257.55 L355.90,257.33 L356.65,257.13 L357.40,256.95 L358.15,256.79 L358.90,256.64 L359.65,256.50 L360.40,256.36 L361.15,256.23 L361.90,256.09 L362.65,255.96 L363.40,255.85 L364.15,255.76 L364.90,255.70 L365.65,255.69 L366.40,255.72 L367.15,255.79 L367.90,255.90 L368.65,256.04 L369.40,256.23 L370.15,256.45 L370.90,256.70 L371.65,256.99 L372.40,257.31 L373.15,257.67 L373.90,258.06 L374.65,258.49 L375.40,258.95 L376.15,259.44 L376.90,259.97 L377.65,260.53 L378.40,261.13 L379.15,261.75 L379.90,262.41 L380.65,263.10 L381.40,263.82 L382.15,264.58 L382.90,265.37 L383.65,266.20 L384.40,267.07 L385.15,267.99 L385.90,268.94 L386.65,269.94 L387.40,270.97 L388.15,272.04 L388.90,273.14 L389.65,274.26 L390.40,275.42 L391.15,276.60 L391.90,277.81 L392.65,279.05 L393.40,280.31 L394.15,281.60 L394.90,282.92 L395.65,284.27 L396.40,285.65 L397.15,287.05 L397.90,288.48 L398.65,289.94 L399.40,291.41 L400.15,292.90 L400.90,294.41 L401.65,295.95 L402.40,297.53 L403.15,299.15 L403.90,300.83 L404.65,302.56 L405.40,304.37 L406.15,306.25 L406.90,308.18 L407.65,310.15 L408.40,312.13 L408.80,313.20" stroke="#1f7088" stroke-width="1.4" fill="none"/>
<line x1="265.40" y1="272.70" x2="265.40" y2="290.90" stroke="#333" stroke-width="0.90"/>
<line x1="264.00" y1="272.70" x2="266.80" y2="272.70" stroke="#333" stroke-width="0.90"/>
<line x1="264.00" y1="290.90" x2="266.80" y2="290.90" stroke="#333" stroke-width="0.90"/>
<circle cx="265.40" cy="281.70" r="1.8" fill="#1f7088"/>
<text x="265.40" y="270.20" font-size="7.00" text-anchor="middle" font-weight="bold" font-family="Liberation Serif">a</text>
<line x1="290.40" y1="261.50" x2="290.40" y2="276.20" stroke="#333" stroke-width="0.90"/>
<line x1="289.00" y1="261.50" x2="291.80" y2="261.50" stroke="#333" stroke-width="0.90"/>
<line x1="289.00" y1="276.20" x2="291.80" y2="276.20" stroke="#333" stroke-width="0.90"/>
<circle cx="290.40" cy="269.20" r="1.8" fill="#1f7088"/>
<text x="290.40" y="258.60" font-size="7.00" text-anchor="middle" font-weight="bold" font-family="Liberation Serif">ab</text>
<line x1="314.50" y1="257.50" x2="314.50" y2="281.30" stroke="#333" stroke-width="0.90"/>
<line x1="313.10" y1="257.50" x2="315.90" y2="257.50" stroke="#333" stroke-width="0.90"/>
<line x1="313.10" y1="281.30" x2="315.90" y2="281.30" stroke="#333" stroke-width="0.90"/>
<circle cx="314.50" cy="269.40" r="1.8" fill="#1f7088"/>
<text x="314.50" y="255.30" font-size="7.00" text-anchor="middle" font-weight="bold" font-family="Liberation Serif">ab</text>
<line x1="337.40" y1="261.40" x2="337.40" y2="276.10" stroke="#333" stroke-width="0.90"/>
<line x1="336.00" y1="261.40" x2="338.80" y2="261.40" stroke="#333" stroke-width="0.90"/>
<line x1="336.00" y1="276.10" x2="338.80" y2="276.10" stroke="#333" stroke-width="0.90"/>
<circle cx="337.40" cy="268.60" r="1.8" fill="#1f7088"/>
<text x="337.40" y="258.60" font-size="7.00" text-anchor="middle" font-weight="bold" font-family="Liberation Serif">ab</text>
<line x1="361.30" y1="244.10" x2="361.30" y2="260.40" stroke="#333" stroke-width="0.90"/>
<line x1="359.90" y1="244.10" x2="362.70" y2="244.10" stroke="#333" stroke-width="0.90"/>
<line x1="359.90" y1="260.40" x2="362.70" y2="260.40" stroke="#333" stroke-width="0.90"/>
<circle cx="361.30" cy="252.30" r="1.8" fill="#1f7088"/>
<text x="361.30" y="241.90" font-size="7.00" text-anchor="middle" font-weight="bold" font-family="Liberation Serif">b</text>
<line x1="385.20" y1="245.40" x2="385.20" y2="274.30" stroke="#333" stroke-width="0.90"/>
<line x1="383.80" y1="245.40" x2="386.60" y2="245.40" stroke="#333" stroke-width="0.90"/>
<line x1="383.80" y1="274.30" x2="386.60" y2="274.30" stroke="#333" stroke-width="0.90"/>
<circle cx="385.20" cy="259.60" r="1.8" fill="#1f7088"/>
<text x="385.20" y="243.20" font-size="7.00" text-anchor="middle" font-weight="bold" font-family="Liberation Serif">ab</text>
<line x1="408.90" y1="308.70" x2="408.90" y2="317.90" stroke="#333" stroke-width="0.90"/>
<line x1="407.50" y1="308.70" x2="410.30" y2="308.70" stroke="#333" stroke-width="0.90"/>
<line x1="407.50" y1="317.90" x2="410.30" y2="317.90" stroke="#333" stroke-width="0.90"/>
<circle cx="408.90" cy="313.40" r="1.8" fill="#1f7088"/>
<text x="408.90" y="307.20" font-size="7.00" text-anchor="middle" font-weight="bold" font-family="Liberation Serif">c</text>
<rect x="35.00" y="388.30" width="170.50" height="137.20" fill="none" stroke="#3c3c3c" stroke-width="1.1"/>
<rect x="50.50" y="524.00" width="3.0" height="3" fill="#fff"/>
<line x1="49.20" y1="528.60" x2="52.00" y2="523.20" stroke="#3c3c3c" stroke-width="0.90"/>
<line x1="52.20" y1="528.60" x2="55.00" y2="523.20" stroke="#3c3c3c" stroke-width="0.90"/>
<line x1="32.30" y1="525.50" x2="35.00" y2="525.50" stroke="#2a2a2a" stroke-width="1.00"/>
<text x="31.10" y="527.10" font-size="4.90" text-anchor="end" font-weight="bold" font-family="Liberation Serif">2.5</text>
<line x1="32.30" y1="502.63" x2="35.00" y2="502.63" stroke="#2a2a2a" stroke-width="1.00"/>
<text x="31.10" y="504.24" font-size="4.90" text-anchor="end" font-weight="bold" font-family="Liberation Serif">3.0</text>
<line x1="32.30" y1="479.77" x2="35.00" y2="479.77" stroke="#2a2a2a" stroke-width="1.00"/>
<text x="31.10" y="481.37" font-size="4.90" text-anchor="end" font-weight="bold" font-family="Liberation Serif">3.5</text>
<line x1="32.30" y1="456.90" x2="35.00" y2="456.90" stroke="#2a2a2a" stroke-width="1.00"/>
<text x="31.10" y="458.50" font-size="4.90" text-anchor="end" font-weight="bold" font-family="Liberation Serif">4.0</text>
<line x1="32.30" y1="434.04" x2="35.00" y2="434.04" stroke="#2a2a2a" stroke-width="1.00"/>
<text x="31.10" y="435.64" font-size="4.90" text-anchor="end" font-weight="bold" font-family="Liberation Serif">4.5</text>
<line x1="32.30" y1="411.18" x2="35.00" y2="411.18" stroke="#2a2a2a" stroke-width="1.00"/>
<text x="31.10" y="412.78" font-size="4.90" text-anchor="end" font-weight="bold" font-family="Liberation Serif">5.0</text>
<line x1="32.30" y1="388.31" x2="35.00" y2="388.31" stroke="#2a2a2a" stroke-width="1.00"/>
<text x="31.10" y="389.91" font-size="4.90" text-anchor="end" font-weight="bold" font-family="Liberation Serif">5.5</text>
<line x1="45.40" y1="525.50" x2="45.40" y2="528.20" stroke="#2a2a2a" stroke-width="1.00"/>
<text x="45.40" y="534.10" font-size="4.90" text-anchor="middle" font-weight="bold" font-family="Liberation Serif">0.0</text>
<line x1="70.40" y1="525.50" x2="70.40" y2="528.20" stroke="#2a2a2a" stroke-width="1.00"/>
<text x="70.40" y="534.10" font-size="4.90" text-anchor="middle" font-weight="bold" font-family="Liberation Serif">1.5</text>
<line x1="94.50" y1="525.50" x2="94.50" y2="528.20" stroke="#2a2a2a" stroke-width="1.00"/>
<text x="94.50" y="534.10" font-size="4.90" text-anchor="middle" font-weight="bold" font-family="Liberation Serif">2.7</text>
<line x1="117.40" y1="525.50" x2="117.40" y2="528.20" stroke="#2a2a2a" stroke-width="1.00"/>
<text x="117.40" y="534.10" font-size="4.90" text-anchor="middle" font-weight="bold" font-family="Liberation Serif">4.7</text>
<line x1="141.30" y1="525.50" x2="141.30" y2="528.20" stroke="#2a2a2a" stroke-width="1.00"/>
<text x="141.30" y="534.10" font-size="4.90" text-anchor="middle" font-weight="bold" font-family="Liberation Serif">8.4</text>
<line x1="165.20" y1="525.50" x2="165.20" y2="528.20" stroke="#2a2a2a" stroke-width="1.00"/>
<text x="165.20" y="534.10" font-size="4.90" text-anchor="middle" font-weight="bold" font-family="Liberation Serif">15.0</text>
<line x1="188.90" y1="525.50" x2="188.90" y2="528.20" stroke="#2a2a2a" stroke-width="1.00"/>
<text x="188.90" y="534.10" font-size="4.90" text-anchor="middle" font-weight="bold" font-family="Liberation Serif">26.7</text>
<text x="2.60" y="392.50" font-size="9.80" text-anchor="start" font-weight="normal" font-family="Liberation Serif">(e)</text>
<text x="18.60" y="456.90" font-size="7.15" text-anchor="middle" font-weight="bold" font-family="Liberation Serif" transform="rotate(-90 18.60 456.90)">Total number of broods</text>
<text x="120.55" y="546.30" font-size="6.60" text-anchor="middle" font-weight="bold" font-family="Liberation Serif">Concentration of MB (μg/L)</text>
<path d="M45.40,484.20 L50.20,482.40" stroke="#1f7088" stroke-width="1.4" fill="none"/>
<path d="M53.70,481.20 L54.45,480.97 L55.20,480.74 L55.95,480.50 L56.70,480.27 L57.45,480.03 L58.20,479.79 L58.95,479.55 L59.70,479.30 L60.45,479.05 L61.20,478.79 L61.95,478.53 L62.70,478.27 L63.45,478.01 L64.20,477.74 L64.95,477.48 L65.70,477.21 L66.45,476.95 L67.20,476.69 L67.95,476.43 L68.70,476.17 L69.45,475.91 L70.20,475.67 L70.95,475.42 L71.70,475.18 L72.45,474.95 L73.20,474.72 L73.95,474.49 L74.70,474.27 L75.45,474.04 L76.20,473.82 L76.95,473.60 L77.70,473.38 L78.45,473.16 L79.20,472.94 L79.95,472.71 L80.70,472.49 L81.45,472.26 L82.20,472.04 L82.95,471.82 L83.70,471.61 L84.45,471.40 L85.20,471.20 L85.95,471.02 L86.70,470.84 L87.45,470.69 L88.20,470.55 L88.95,470.43 L89.70,470.33 L90.45,470.26 L91.20,470.21 L91.95,470.18 L92.70,470.17 L93.45,470.17 L94.20,470.19 L94.95,470.22 L95.70,470.26 L96.45,470.32 L97.20,470.38 L97.95,470.46 L98.70,470.54 L99.45,470.64 L100.20,470.75 L100.95,470.87 L101.70,471.00 L102.45,471.14 L103.20,471.29 L103.95,471.45 L104.70,471.63 L105.45,471.81 L106.20,472.00 L106.95,472.20 L107.70,472.39 L108.45,472.58 L109.20,472.75 L109.95,472.91 L110.70,473.05 L111.45,473.16 L112.20,473.25 L112.95,473.30 L113.70,473.31 L114.45,473.28 L115.20,473.22 L115.95,473.11 L116.70,472.97 L117.45,472.79 L118.20,472.57 L118.95,472.31 L119.70,472.03 L120.45,471.71 L121.20,471.37 L121.95,471.00 L122.70,470.61 L123.45,470.20 L124.20,469.77 L124.95,469.33 L125.70,468.88 L126.45,468.41 L127.20,467.94 L127.95,467.46 L128.70,466.98 L129.45,466.49 L130.20,466.00 L130.95,465.52 L131.70,465.03 L132.45,464.55 L133.20,464.07 L133.95,463.61 L134.70,463.15 L135.45,462.71 L136.20,462.29 L136.95,461.90 L137.70,461.53 L138.45,461.20 L139.20,460.90 L139.95,460.65 L140.70,460.43 L141.45,460.27 L142.20,460.16 L142.95,460.09 L143.70,460.06 L144.45,460.06 L145.20,460.08 L145.95,460.13 L146.70,460.18 L147.45,460.23 L148.20,460.30 L148.95,460.37 L149.70,460.46 L150.45,460.57 L151.20,460.70 L151.95,460.86 L152.70,461.04 L153.45,461.24 L154.20,461.45 L154.95,461.68 L155.70,461.93 L156.45,462.19 L157.20,462.46 L157.95,462.74 L158.70,463.02 L159.45,463.30 L160.20,463.57 L160.95,463.84 L161.70,464.10 L162.45,464.34 L163.20,464.56 L163.95,464.75 L164.70,464.91 L165.45,465.04 L166.20,465.12 L166.95,465.17 L167.70,465.19 L168.45,465.18 L169.20,465.15 L169.95,465.10 L170.70,465.04 L171.45,464.97 L172.20,464.87 L172.95,464.74 L173.70,464.58 L174.45,464.38 L175.20,464.13 L175.95,463.83 L176.70,463.50 L177.45,463.13 L178.20,462.73 L178.95,462.31 L179.70,461.88 L180.45,461.43 L181.20,460.98 L181.95,460.48 L182.70,459.92 L183.45,459.28 L184.20,458.53 L184.95,457.66 L185.70,456.65 L186.45,455.51 L187.20,454.28 L187.95,452.99 L188.70,451.66 L188.90,451.30" stroke="#1f7088" stroke-width="1.4" fill="none"/>
<line x1="45.40" y1="476.70" x2="45.40" y2="491.60" stroke="#333" stroke-width="0.90"/>
<line x1="44.00" y1="476.70" x2="46.80" y2="476.70" stroke="#333" stroke-width="0.90"/>
<line x1="44.00" y1="491.60" x2="46.80" y2="491.60" stroke="#333" stroke-width="0.90"/>
<circle cx="45.40" cy="484.20" r="1.8" fill="#1f7088"/>
<text x="45.40" y="474.80" font-size="7.00" text-anchor="middle" font-weight="bold" font-family="Liberation Serif">a</text>
<line x1="70.40" y1="467.60" x2="70.40" y2="482.60" stroke="#333" stroke-width="0.90"/>
<line x1="69.00" y1="467.60" x2="71.80" y2="467.60" stroke="#333" stroke-width="0.90"/>
<line x1="69.00" y1="482.60" x2="71.80" y2="482.60" stroke="#333" stroke-width="0.90"/>
<circle cx="70.40" cy="475.10" r="1.8" fill="#1f7088"/>
<text x="70.40" y="465.00" font-size="7.00" text-anchor="middle" font-weight="bold" font-family="Liberation Serif">ab</text>
<line x1="94.50" y1="459.80" x2="94.50" y2="472.20" stroke="#333" stroke-width="0.90"/>
<line x1="93.10" y1="459.80" x2="95.90" y2="459.80" stroke="#333" stroke-width="0.90"/>
<line x1="93.10" y1="472.20" x2="95.90" y2="472.20" stroke="#333" stroke-width="0.90"/>
<circle cx="94.50" cy="466.10" r="1.8" fill="#1f7088"/>
<text x="94.50" y="457.90" font-size="7.00" text-anchor="middle" font-weight="bold" font-family="Liberation Serif">ab</text>
<line x1="117.40" y1="469.90" x2="117.40" y2="489.80" stroke="#333" stroke-width="0.90"/>
<line x1="116.00" y1="469.90" x2="118.80" y2="469.90" stroke="#333" stroke-width="0.90"/>
<line x1="116.00" y1="489.80" x2="118.80" y2="489.80" stroke="#333" stroke-width="0.90"/>
<circle cx="117.40" cy="479.70" r="1.8" fill="#1f7088"/>
<text x="117.40" y="467.70" font-size="7.00" text-anchor="middle" font-weight="bold" font-family="Liberation Serif">a</text>
<line x1="141.30" y1="444.00" x2="141.30" y2="460.10" stroke="#333" stroke-width="0.90"/>
<line x1="139.90" y1="444.00" x2="142.70" y2="444.00" stroke="#333" stroke-width="0.90"/>
<line x1="139.90" y1="460.10" x2="142.70" y2="460.10" stroke="#333" stroke-width="0.90"/>
<circle cx="141.30" cy="452.40" r="1.8" fill="#1f7088"/>
<text x="141.30" y="441.80" font-size="7.00" text-anchor="middle" font-weight="bold" font-family="Liberation Serif">b</text>
<line x1="165.20" y1="461.70" x2="165.20" y2="482.70" stroke="#333" stroke-width="0.90"/>
<line x1="163.80" y1="461.70" x2="166.60" y2="461.70" stroke="#333" stroke-width="0.90"/>
<line x1="163.80" y1="482.70" x2="166.60" y2="482.70" stroke="#333" stroke-width="0.90"/>
<circle cx="165.20" cy="472.00" r="1.8" fill="#1f7088"/>
<text x="165.20" y="458.80" font-size="7.00" text-anchor="middle" font-weight="bold" font-family="Liberation Serif">ab</text>
<line x1="188.90" y1="445.40" x2="188.90" y2="456.80" stroke="#333" stroke-width="0.90"/>
<line x1="187.50" y1="445.40" x2="190.30" y2="445.40" stroke="#333" stroke-width="0.90"/>
<line x1="187.50" y1="456.80" x2="190.30" y2="456.80" stroke="#333" stroke-width="0.90"/>
<circle cx="188.90" cy="451.10" r="1.8" fill="#1f7088"/>
<text x="188.90" y="443.30" font-size="7.00" text-anchor="middle" font-weight="bold" font-family="Liberation Serif">b</text>
<rect x="255.00" y="388.30" width="170.50" height="137.20" fill="none" stroke="#3c3c3c" stroke-width="1.1"/>
<rect x="270.50" y="524.00" width="3.0" height="3" fill="#fff"/>
<line x1="269.20" y1="528.60" x2="272.00" y2="523.20" stroke="#3c3c3c" stroke-width="0.90"/>
<line x1="272.20" y1="528.60" x2="275.00" y2="523.20" stroke="#3c3c3c" stroke-width="0.90"/>
<line x1="252.30" y1="525.50" x2="255.00" y2="525.50" stroke="#2a2a2a" stroke-width="1.00"/>
<text x="251.10" y="527.10" font-size="4.90" text-anchor="end" font-weight="bold" font-family="Liberation Serif">8</text>
<line x1="252.30" y1="505.89" x2="255.00" y2="505.89" stroke="#2a2a2a" stroke-width="1.00"/>
<text x="251.10" y="507.49" font-size="4.90" text-anchor="end" font-weight="bold" font-family="Liberation Serif">10</text>
<line x1="252.30" y1="486.27" x2="255.00" y2="486.27" stroke="#2a2a2a" stroke-width="1.00"/>
<text x="251.10" y="487.87" font-size="4.90" text-anchor="end" font-weight="bold" font-family="Liberation Serif">12</text>
<line x1="252.30" y1="466.66" x2="255.00" y2="466.66" stroke="#2a2a2a" stroke-width="1.00"/>
<text x="251.10" y="468.26" font-size="4.90" text-anchor="end" font-weight="bold" font-family="Liberation Serif">14</text>
<line x1="252.30" y1="447.04" x2="255.00" y2="447.04" stroke="#2a2a2a" stroke-width="1.00"/>
<text x="251.10" y="448.64" font-size="4.90" text-anchor="end" font-weight="bold" font-family="Liberation Serif">16</text>
<line x1="252.30" y1="427.43" x2="255.00" y2="427.43" stroke="#2a2a2a" stroke-width="1.00"/>
<text x="251.10" y="429.03" font-size="4.90" text-anchor="end" font-weight="bold" font-family="Liberation Serif">18</text>
<line x1="252.30" y1="407.81" x2="255.00" y2="407.81" stroke="#2a2a2a" stroke-width="1.00"/>
<text x="251.10" y="409.41" font-size="4.90" text-anchor="end" font-weight="bold" font-family="Liberation Serif">20</text>
<line x1="252.30" y1="388.20" x2="255.00" y2="388.20" stroke="#2a2a2a" stroke-width="1.00"/>
<text x="251.10" y="389.80" font-size="4.90" text-anchor="end" font-weight="bold" font-family="Liberation Serif">22</text>
<line x1="265.40" y1="525.50" x2="265.40" y2="528.20" stroke="#2a2a2a" stroke-width="1.00"/>
<text x="265.40" y="534.10" font-size="4.90" text-anchor="middle" font-weight="bold" font-family="Liberation Serif">0.0</text>
<line x1="290.40" y1="525.50" x2="290.40" y2="528.20" stroke="#2a2a2a" stroke-width="1.00"/>
<text x="290.40" y="534.10" font-size="4.90" text-anchor="middle" font-weight="bold" font-family="Liberation Serif">1.5</text>
<line x1="314.50" y1="525.50" x2="314.50" y2="528.20" stroke="#2a2a2a" stroke-width="1.00"/>
<text x="314.50" y="534.10" font-size="4.90" text-anchor="middle" font-weight="bold" font-family="Liberation Serif">2.7</text>
<line x1="337.40" y1="525.50" x2="337.40" y2="528.20" stroke="#2a2a2a" stroke-width="1.00"/>
<text x="337.40" y="534.10" font-size="4.90" text-anchor="middle" font-weight="bold" font-family="Liberation Serif">4.7</text>
<line x1="361.30" y1="525.50" x2="361.30" y2="528.20" stroke="#2a2a2a" stroke-width="1.00"/>
<text x="361.30" y="534.10" font-size="4.90" text-anchor="middle" font-weight="bold" font-family="Liberation Serif">8.4</text>
<line x1="385.20" y1="525.50" x2="385.20" y2="528.20" stroke="#2a2a2a" stroke-width="1.00"/>
<text x="385.20" y="534.10" font-size="4.90" text-anchor="middle" font-weight="bold" font-family="Liberation Serif">15.0</text>
<line x1="408.90" y1="525.50" x2="408.90" y2="528.20" stroke="#2a2a2a" stroke-width="1.00"/>
<text x="408.90" y="534.10" font-size="4.90" text-anchor="middle" font-weight="bold" font-family="Liberation Serif">26.7</text>
<text x="216.40" y="392.50" font-size="9.80" text-anchor="start" font-weight="normal" font-family="Liberation Serif">(f)</text>
<text x="238.60" y="456.90" font-size="7.15" text-anchor="middle" font-weight="bold" font-family="Liberation Serif" transform="rotate(-90 238.60 456.90)">Total number of living offspring per brood (ind)</text>
<text x="340.55" y="546.30" font-size="6.60" text-anchor="middle" font-weight="bold" font-family="Liberation Serif">Concentration of MB (μg/L)</text>
<path d="M265.40,444.80 L269.60,444.10" stroke="#1f7088" stroke-width="1.4" fill="none"/>
<path d="M273.60,444.00 L274.35,443.90 L275.10,443.80 L275.85,443.70 L276.60,443.61 L277.35,443.52 L278.10,443.45 L278.85,443.38 L279.60,443.32 L280.35,443.28 L281.10,443.25 L281.85,443.24 L282.60,443.23 L283.35,443.24 L284.10,443.26 L284.85,443.28 L285.60,443.32 L286.35,443.36 L287.10,443.41 L287.85,443.47 L288.60,443.53 L289.35,443.60 L290.10,443.67 L290.85,443.75 L291.60,443.82 L292.35,443.90 L293.10,443.99 L293.85,444.08 L294.60,444.18 L295.35,444.28 L296.10,444.39 L296.85,444.51 L297.60,444.64 L298.35,444.77 L299.10,444.91 L299.85,445.07 L300.60,445.23 L301.35,445.41 L302.10,445.59 L302.85,445.77 L303.60,445.95 L304.35,446.14 L305.10,446.32 L305.85,446.49 L306.60,446.66 L307.35,446.82 L308.10,446.96 L308.85,447.09 L309.60,447.20 L310.35,447.29 L311.10,447.35 L311.85,447.39 L312.60,447.41 L313.35,447.39 L314.10,447.34 L314.85,447.26 L315.60,447.14 L316.35,446.99 L317.10,446.82 L317.85,446.63 L318.60,446.42 L319.35,446.20 L320.10,445.97 L320.85,445.74 L321.60,445.51 L322.35,445.27 L323.10,445.03 L323.85,444.78 L324.60,444.53 L325.35,444.27 L326.10,444.00 L326.85,443.73 L327.60,443.45 L328.35,443.17 L329.10,442.87 L329.85,442.56 L330.60,442.25 L331.35,441.93 L332.10,441.60 L332.85,441.28 L333.60,440.97 L334.35,440.67 L335.10,440.39 L335.85,440.14 L336.60,439.91 L337.35,439.71 L338.10,439.55 L338.85,439.43 L339.60,439.34 L340.35,439.28 L341.10,439.25 L341.85,439.25 L342.60,439.27 L343.35,439.32 L344.10,439.39 L344.85,439.48 L345.60,439.59 L346.35,439.71 L347.10,439.85 L347.85,440.00 L348.60,440.16 L349.35,440.33 L350.10,440.51 L350.85,440.68 L351.60,440.86 L352.35,441.05 L353.10,441.22 L353.85,441.40 L354.60,441.57 L355.35,441.73 L356.10,441.89 L356.85,442.04 L357.60,442.18 L358.35,442.31 L359.10,442.43 L359.85,442.53 L360.60,442.63 L361.35,442.70 L362.10,442.77 L362.85,442.82 L363.60,442.86 L364.35,442.89 L365.10,442.91 L365.85,442.93 L366.60,442.94 L367.35,442.95 L368.10,442.96 L368.85,442.98 L369.60,442.99 L370.35,443.01 L371.10,443.04 L371.85,443.08 L372.60,443.15 L373.35,443.25 L374.10,443.38 L374.85,443.56 L375.60,443.78 L376.35,444.05 L377.10,444.36 L377.85,444.69 L378.60,445.04 L379.35,445.39 L380.10,445.75 L380.85,446.10 L381.60,446.48 L382.35,446.91 L383.10,447.43 L383.85,448.05 L384.60,448.82 L385.35,449.76 L386.10,450.87 L386.85,452.12 L387.60,453.48 L388.35,454.92 L389.10,456.41 L389.85,457.92 L390.60,459.41 L391.35,460.87 L392.10,462.27 L392.85,463.64 L393.60,464.99 L394.35,466.32 L395.10,467.66 L395.85,469.00 L396.60,470.37 L397.35,471.77 L398.10,473.20 L398.85,474.67 L399.60,476.18 L400.35,477.74 L401.10,479.34 L401.85,481.00 L402.60,482.71 L403.35,484.49 L404.10,486.33 L404.85,488.26 L405.60,490.27 L406.35,492.37 L407.10,494.54 L407.85,496.76 L408.60,499.00 L408.80,499.60" stroke="#1f7088" stroke-width="1.4" fill="none"/>
<line x1="265.40" y1="436.50" x2="265.40" y2="453.60" stroke="#333" stroke-width="0.90"/>
<line x1="264.00" y1="436.50" x2="266.80" y2="436.50" stroke="#333" stroke-width="0.90"/>
<line x1="264.00" y1="453.60" x2="266.80" y2="453.60" stroke="#333" stroke-width="0.90"/>
<circle cx="265.40" cy="444.80" r="1.8" fill="#1f7088"/>
<text x="265.40" y="434.20" font-size="7.00" text-anchor="middle" font-weight="bold" font-family="Liberation Serif">a</text>
<line x1="290.40" y1="436.50" x2="290.40" y2="447.20" stroke="#333" stroke-width="0.90"/>
<line x1="289.00" y1="436.50" x2="291.80" y2="436.50" stroke="#333" stroke-width="0.90"/>
<line x1="289.00" y1="447.20" x2="291.80" y2="447.20" stroke="#333" stroke-width="0.90"/>
<circle cx="290.40" cy="441.80" r="1.8" fill="#1f7088"/>
<text x="290.40" y="434.20" font-size="7.00" text-anchor="middle" font-weight="bold" font-family="Liberation Serif">a</text>
<line x1="314.50" y1="445.10" x2="314.50" y2="460.00" stroke="#333" stroke-width="0.90"/>
<line x1="313.10" y1="445.10" x2="315.90" y2="445.10" stroke="#333" stroke-width="0.90"/>
<line x1="313.10" y1="460.00" x2="315.90" y2="460.00" stroke="#333" stroke-width="0.90"/>
<circle cx="314.50" cy="452.50" r="1.8" fill="#1f7088"/>
<text x="314.50" y="443.30" font-size="7.00" text-anchor="middle" font-weight="bold" font-family="Liberation Serif">a</text>
<line x1="337.40" y1="428.60" x2="337.40" y2="441.60" stroke="#333" stroke-width="0.90"/>
<line x1="336.00" y1="428.60" x2="338.80" y2="428.60" stroke="#333" stroke-width="0.90"/>
<line x1="336.00" y1="441.60" x2="338.80" y2="441.60" stroke="#333" stroke-width="0.90"/>
<circle cx="337.40" cy="435.00" r="1.8" fill="#1f7088"/>
<text x="337.40" y="426.50" font-size="7.00" text-anchor="middle" font-weight="bold" font-family="Liberation Serif">a</text>
<line x1="361.30" y1="437.10" x2="361.30" y2="454.50" stroke="#333" stroke-width="0.90"/>
<line x1="359.90" y1="437.10" x2="362.70" y2="437.10" stroke="#333" stroke-width="0.90"/>
<line x1="359.90" y1="454.50" x2="362.70" y2="454.50" stroke="#333" stroke-width="0.90"/>
<circle cx="361.30" cy="445.60" r="1.8" fill="#1f7088"/>
<text x="361.30" y="435.00" font-size="7.00" text-anchor="middle" font-weight="bold" font-family="Liberation Serif">a</text>
<line x1="385.20" y1="432.30" x2="385.20" y2="444.60" stroke="#333" stroke-width="0.90"/>
<line x1="383.80" y1="432.30" x2="386.60" y2="432.30" stroke="#333" stroke-width="0.90"/>
<line x1="383.80" y1="444.60" x2="386.60" y2="444.60" stroke="#333" stroke-width="0.90"/>
<circle cx="385.20" cy="438.70" r="1.8" fill="#1f7088"/>
<text x="385.20" y="430.60" font-size="7.00" text-anchor="middle" font-weight="bold" font-family="Liberation Serif">a</text>
<line x1="408.90" y1="496.20" x2="408.90" y2="504.40" stroke="#333" stroke-width="0.90"/>
<line x1="407.50" y1="496.20" x2="410.30" y2="496.20" stroke="#333" stroke-width="0.90"/>
<line x1="407.50" y1="504.40" x2="410.30" y2="504.40" stroke="#333" stroke-width="0.90"/>
<circle cx="408.90" cy="500.00" r="1.8" fill="#1f7088"/>
<text x="408.90" y="492.70" font-size="7.00" text-anchor="middle" font-weight="bold" font-family="Liberation Serif">b</text>
</svg>
</body></html>
